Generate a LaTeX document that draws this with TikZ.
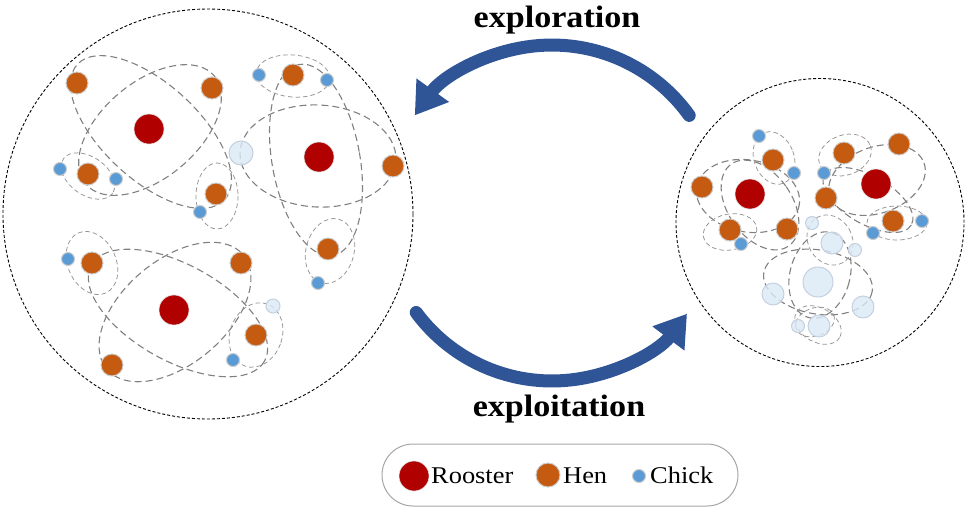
\documentclass[tikz,border=0pt]{standalone}
\usepackage{fontspec}
\setmainfont{Liberation Serif}
\newfontfamily\wideserif[FakeStretch=1.1]{Liberation Serif}
\usetikzlibrary{arrows.meta}
\definecolor{roostercol}{RGB}{176,0,0}
\definecolor{hencol}{RGB}{197,90,17}
\definecolor{chickcol}{RGB}{91,155,213}
\definecolor{palecol}{RGB}{218,232,245}
\definecolor{palebord}{RGB}{196,208,222}
\definecolor{ellgray}{RGB}{128,128,128}
\definecolor{arrowblue}{RGB}{47,85,151}
\definecolor{legbord}{RGB}{166,166,166}
\newcommand{\dell}[6][bigell]{\draw[#1,rotate around={#6:(#2,#3)}] (#2,#3) ellipse[x radius=#4,y radius=#5];}
\begin{document}
\begin{tikzpicture}[x=1pt,y=-1pt,
  rooster/.style={circle,fill=roostercol,draw=gray!25,line width=0.6pt,minimum size=30pt,inner sep=0pt},
  hen/.style={circle,fill=hencol,draw=gray!40,line width=1pt,minimum size=22pt,inner sep=0pt},
  chick/.style={circle,fill=chickcol,draw=gray!40,line width=1pt,minimum size=13pt,inner sep=0pt},
  pale/.style={circle,fill=palecol,fill opacity=0.8,draw=palebord,line width=1pt,inner sep=0pt},
  bigell/.style={draw=ellgray,line width=1.1pt,dash pattern=on 7pt off 4pt},
  smallell/.style={draw=ellgray!85,line width=0.75pt,dash pattern=on 4.5pt off 3pt},
  pop/.style={draw=black,line width=0.9pt,dash pattern=on 3pt off 2pt},
  bigarrow/.style={draw=arrowblue,line width=13pt,line cap=round,-{Triangle[length=31pt,width=38pt]}},
  labeltext/.style={inner sep=0pt,font=\wideserif\fontsize{31}{35}\selectfont\bfseries},
  legtext/.style={inner sep=0pt,anchor=base west,font=\wideserif\fontsize{24}{28}\selectfont}
]
\useasboundingbox (0,0) rectangle (969,512);

% populations
\node[pop,circle,minimum size=410pt,inner sep=0pt] (popA) at (208,214) {};
\node[pop,circle,minimum size=288pt,inner sep=0pt] (popB) at (820,222.5) {};

% ---- left population: groups (dashed ellipses)
\dell{151}{132}{100}{48}{-42.6}
\dell{150}{130}{84}{48}{40}
\dell[smallell]{88}{176}{30}{19}{-35}
\dell[smallell]{217}{196}{21}{33}{0}
\dell{318}{156}{78}{51}{-3}
\dell{316}{160}{44}{97}{10}
\dell[smallell]{293}{76}{37}{21}{-5}
\dell[smallell]{330}{251}{24}{33}{-15}
\dell{178}{313}{99}{48}{-29}
\dell{175}{312}{89}{52}{40}
\dell[smallell]{92}{263}{24}{33}{25}
\dell[smallell]{256}{335}{26}{33}{-20}

% ---- right population: groups
\dell{748}{196}{52}{36}{-10}
\dell{760}{205}{32}{50}{35}
\dell[smallell]{774}{158}{20}{27}{20}
\dell[smallell]{730}{232}{27}{18}{10}
\dell{877}{180}{50}{33}{20}
\dell{868}{200}{50}{24}{-30}
\dell[smallell]{845}{155}{27}{20}{20}
\dell[smallell]{897}{223}{30}{17}{0}
\dell{818}{282}{55}{32}{-10}
\dell{820}{275}{30}{44}{-15}
\dell[smallell]{830}{240}{22}{26}{30}
\dell[smallell]{818}{325}{25}{17}{-30}
\dell[smallell]{815}{322}{20}{14}{20}

% ---- left population: individuals
\node[rooster] (a1) at (149,129) {};
\node[hen] (a2) at (77,83) {};
\node[hen] (a3) at (212,88) {};
\node[hen] (a4) at (88,174) {};
\node[hen] (a5) at (216,194) {};
\node[chick] (a6) at (60,169) {};
\node[chick] (a7) at (116,179) {};
\node[chick] (a8) at (200,212) {};
\node[rooster] (b1) at (319,157) {};
\node[hen] (b2) at (293,75) {};
\node[hen] (b3) at (393,166) {};
\node[hen] (b4) at (328,249) {};
\node[chick] (b5) at (259,75) {};
\node[chick] (b6) at (327,80) {};
\node[chick] (b7) at (318,283) {};
\node[pale,minimum size=24pt] (b8) at (241,153) {};
\node[rooster] (c1) at (174,310) {};
\node[hen] (c2) at (92,263) {};
\node[hen] (c3) at (241,263) {};
\node[hen] (c4) at (112,365) {};
\node[hen] (c5) at (256,335) {};
\node[chick] (c6) at (68,259) {};
\node[chick] (c7) at (233,360) {};
\node[pale,minimum size=14pt] (c8) at (273,306) {};

% ---- right population: individuals
\node[rooster] (d1) at (750,194) {};
\node[hen] (d2) at (702,187) {};
\node[hen] (d3) at (773,160) {};
\node[hen] (d4) at (730,230) {};
\node[hen] (d5) at (787,229) {};
\node[chick] (d6) at (759,136) {};
\node[chick] (d7) at (794,173) {};
\node[chick] (d8) at (741,244) {};
\node[rooster] (e1) at (876,184) {};
\node[hen] (e2) at (844,153) {};
\node[hen] (e3) at (899,144) {};
\node[hen] (e4) at (826,198) {};
\node[hen] (e5) at (893,221) {};
\node[chick] (e6) at (824,173) {};
\node[chick] (e7) at (873,233) {};
\node[chick] (e8) at (922,221) {};
\node[pale,minimum size=13pt] (f1) at (812,223) {};
\node[pale,minimum size=22pt] (f2) at (832,243) {};
\node[pale,minimum size=13pt] (f3) at (855,250) {};
\node[pale,minimum size=30pt] (f4) at (818,282) {};
\node[pale,minimum size=22pt] (f5) at (773,294) {};
\node[pale,minimum size=22pt] (f6) at (863,307) {};
\node[pale,minimum size=22pt] (f7) at (819,326) {};
\node[pale,minimum size=13pt] (f8) at (798,326) {};

% ---- arrows
\coordinate (explS) at (689.2,115.4);
\coordinate (exploitS) at (416.2,312.5);
\draw[bigarrow] (explS) arc[start angle=-35.7,end angle=-144.3,radius=169];
\draw[bigarrow] (exploitS) arc[start angle=143.5,end angle=37,radius=169];
\node[labeltext,anchor=base] (explT) at (557,27) {exploration};
\node[labeltext,anchor=base] (exploitT) at (559,416) {exploitation};

% ---- legend
\node[draw=legbord,line width=1pt,rounded corners=31pt,minimum width=356pt,minimum height=62pt,inner sep=0pt] (legend) at (560,475) {};
\node[rooster] (lr) at (414,476) {};
\node[legtext] (lrt) at (431,483) {Rooster};
\node[hen,minimum size=24pt] (lh) at (548,475) {};
\node[legtext] (lht) at (563,483) {Hen};
\node[chick] (lc) at (639,476) {};
\node[legtext] (lct) at (650,483) {Chick};
\end{tikzpicture}
\end{document}
